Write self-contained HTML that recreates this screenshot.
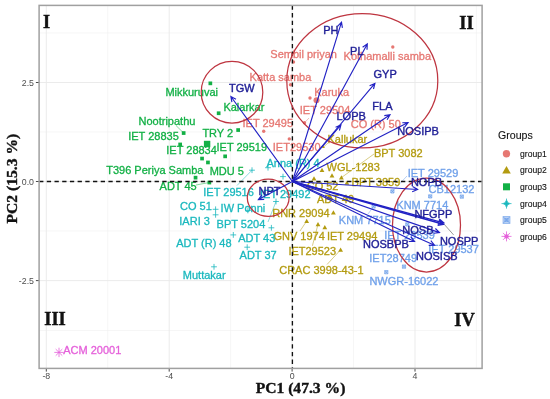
<!DOCTYPE html>
<html><head><meta charset="utf-8"><title>PCA biplot</title>
<style>html,body{margin:0;padding:0;background:#fff}body{width:550px;height:399px;overflow:hidden}</style></head>
<body>
<svg width="550" height="399" viewBox="0 0 550 399" style="display:block">
<rect width="550" height="399" fill="#fff"/>
<line x1="107.7" y1="5.4" x2="107.7" y2="368.4" stroke="#f0f0f0" stroke-width="0.6"/>
<line x1="230.6" y1="5.4" x2="230.6" y2="368.4" stroke="#f0f0f0" stroke-width="0.6"/>
<line x1="353.5" y1="5.4" x2="353.5" y2="368.4" stroke="#f0f0f0" stroke-width="0.6"/>
<line x1="476.4" y1="5.4" x2="476.4" y2="368.4" stroke="#f0f0f0" stroke-width="0.6"/>
<line x1="39.1" y1="33" x2="482.1" y2="33" stroke="#f0f0f0" stroke-width="0.6"/>
<line x1="39.1" y1="132" x2="482.1" y2="132" stroke="#f0f0f0" stroke-width="0.6"/>
<line x1="39.1" y1="231" x2="482.1" y2="231" stroke="#f0f0f0" stroke-width="0.6"/>
<line x1="39.1" y1="330.5" x2="482.1" y2="330.5" stroke="#f0f0f0" stroke-width="0.6"/>
<line x1="46.3" y1="5.4" x2="46.3" y2="368.4" stroke="#e9e9e9" stroke-width="0.9"/>
<line x1="169.2" y1="5.4" x2="169.2" y2="368.4" stroke="#e9e9e9" stroke-width="0.9"/>
<line x1="292.1" y1="5.4" x2="292.1" y2="368.4" stroke="#e9e9e9" stroke-width="0.9"/>
<line x1="415.0" y1="5.4" x2="415.0" y2="368.4" stroke="#e9e9e9" stroke-width="0.9"/>
<line x1="39.1" y1="82.5" x2="482.1" y2="82.5" stroke="#e9e9e9" stroke-width="0.9"/>
<line x1="39.1" y1="181.5" x2="482.1" y2="181.5" stroke="#e9e9e9" stroke-width="0.9"/>
<line x1="39.1" y1="280.6" x2="482.1" y2="280.6" stroke="#e9e9e9" stroke-width="0.9"/>
<g font-family="'Liberation Sans', Arial, sans-serif">
<circle cx="293.5" cy="62" r="1.7" fill="#E67873"/>
<circle cx="290.5" cy="84.7" r="1.7" fill="#E67873"/>
<circle cx="310" cy="98" r="1.7" fill="#E67873"/>
<circle cx="392.8" cy="47" r="1.7" fill="#E67873"/>
<circle cx="263.7" cy="131.3" r="1.7" fill="#E67873"/>
<circle cx="289.3" cy="138.9" r="1.7" fill="#E67873"/>
<circle cx="304.5" cy="122.8" r="1.7" fill="#E67873"/>
<circle cx="316.5" cy="100.2" r="3.0" fill="#E67873"/>
<line x1="304.5" y1="122.8" x2="309" y2="118" stroke="#E67873" stroke-width="0.5"/>
<path d="M323.4 145.4 L324.9 148.1 L321.9 148.1Z" fill="#B39B10"/>
<path d="M322.0 167.7 L324.4 171.9 L319.6 171.9Z" fill="#B39B10"/>
<path d="M332.0 173.3 L334.4 177.5 L329.6 177.5Z" fill="#B39B10"/>
<path d="M314.0 176.3 L316.4 180.5 L311.6 180.5Z" fill="#B39B10"/>
<path d="M341.4 175.3 L343.8 179.5 L339.0 179.5Z" fill="#B39B10"/>
<path d="M346.9 180.6 L349.3 184.8 L344.5 184.8Z" fill="#B39B10"/>
<path d="M346.9 197.1 L349.3 201.3 L344.5 201.3Z" fill="#B39B10"/>
<path d="M333.4 210.3 L335.8 214.5 L331.0 214.5Z" fill="#B39B10"/>
<path d="M306.7 218.7 L309.1 222.9 L304.3 222.9Z" fill="#B39B10"/>
<path d="M318.0 222.0 L320.4 226.2 L315.6 226.2Z" fill="#B39B10"/>
<path d="M324.8 225.0 L327.2 229.2 L322.4 229.2Z" fill="#B39B10"/>
<path d="M340.6 247.5 L343.0 251.7 L338.2 251.7Z" fill="#B39B10"/>
<path d="M329.6 193.2 L333.3 199.7 L325.9 199.7Z" fill="#B39B10"/>
<line x1="374" y1="154" x2="341.4" y2="177.6" stroke="#B39B10" stroke-width="0.5"/>
<line x1="306.7" y1="221" x2="300" y2="231" stroke="#B39B10" stroke-width="0.5"/>
<line x1="318" y1="224.3" x2="312.4" y2="245.8" stroke="#B39B10" stroke-width="0.5"/>
<line x1="340.6" y1="249.8" x2="327" y2="264.5" stroke="#B39B10" stroke-width="0.5"/>
<line x1="323.5" y1="147" x2="328" y2="143" stroke="#B39B10" stroke-width="0.5"/>
<rect x="208.5" y="81.5" width="3.7" height="3.7" fill="#12B045"/>
<rect x="216.8" y="111.4" width="3.7" height="3.7" fill="#12B045"/>
<rect x="181.8" y="131.2" width="3.7" height="3.7" fill="#12B045"/>
<rect x="178.3" y="142.6" width="3.7" height="3.7" fill="#12B045"/>
<rect x="200.2" y="156.7" width="3.7" height="3.7" fill="#12B045"/>
<rect x="206.1" y="160.6" width="3.7" height="3.7" fill="#12B045"/>
<rect x="223.3" y="154.5" width="3.7" height="3.7" fill="#12B045"/>
<rect x="236.3" y="128.2" width="3.7" height="3.7" fill="#12B045"/>
<rect x="193.7" y="175.8" width="3.7" height="3.7" fill="#12B045"/>
<rect x="207.5" y="180.7" width="3.7" height="3.7" fill="#12B045"/>
<rect x="203.9" y="140.8" width="6.4" height="6.4" fill="#12B045"/>
<line x1="183.7" y1="133.1" x2="176" y2="125.5" stroke="#12B045" stroke-width="0.5"/>
<line x1="209.3" y1="182.5" x2="196" y2="185" stroke="#12B045" stroke-width="0.5"/>
<path d="M249.1 170.2H254.9M252.0 167.3V173.1" stroke="#1AB8BE" stroke-width="0.8" fill="none"/>
<path d="M265.1 167.7H270.9M268.0 164.8V170.6" stroke="#1AB8BE" stroke-width="0.8" fill="none"/>
<path d="M280.1 176.6H285.9M283.0 173.7V179.5" stroke="#1AB8BE" stroke-width="0.8" fill="none"/>
<path d="M273.1 201.5H278.9M276.0 198.6V204.4" stroke="#1AB8BE" stroke-width="0.8" fill="none"/>
<path d="M212.7 209.3H218.5M215.6 206.4V212.2" stroke="#1AB8BE" stroke-width="0.8" fill="none"/>
<path d="M212.7 214.8H218.5M215.6 211.9V217.7" stroke="#1AB8BE" stroke-width="0.8" fill="none"/>
<path d="M245.0 210.4H250.8M247.9 207.5V213.3" stroke="#1AB8BE" stroke-width="0.8" fill="none"/>
<path d="M268.5 227.8H274.3M271.4 224.9V230.7" stroke="#1AB8BE" stroke-width="0.8" fill="none"/>
<path d="M230.4 234.9H236.2M233.3 232.0V237.8" stroke="#1AB8BE" stroke-width="0.8" fill="none"/>
<path d="M244.3 247.2H250.1M247.2 244.3V250.1" stroke="#1AB8BE" stroke-width="0.8" fill="none"/>
<path d="M211.1 266.8H216.9M214.0 263.9V269.7" stroke="#1AB8BE" stroke-width="0.8" fill="none"/>
<line x1="252" y1="170.2" x2="237" y2="185.5" stroke="#1AB8BE" stroke-width="0.5"/>
<line x1="276" y1="201.5" x2="268" y2="222" stroke="#1AB8BE" stroke-width="0.5"/>
<path d="M384.7 270.6h3.2v3.2h-3.2zM384.7 270.6l3.2 3.2M387.9 270.6l-3.2 3.2" stroke="#6FA0EA" stroke-width="0.7" fill="#6FA0EA" fill-opacity="0.35"/>
<path d="M402.4 265.0h3.2v3.2h-3.2zM402.4 265.0l3.2 3.2M405.6 265.0l-3.2 3.2" stroke="#6FA0EA" stroke-width="0.7" fill="#6FA0EA" fill-opacity="0.35"/>
<path d="M428.6 194.8h3.2v3.2h-3.2zM428.6 194.8l3.2 3.2M431.8 194.8l-3.2 3.2" stroke="#6FA0EA" stroke-width="0.7" fill="#6FA0EA" fill-opacity="0.35"/>
<path d="M460.2 195.0h3.2v3.2h-3.2zM460.2 195.0l3.2 3.2M463.4 195.0l-3.2 3.2" stroke="#6FA0EA" stroke-width="0.7" fill="#6FA0EA" fill-opacity="0.35"/>
<path d="M390.8 189.8h3.2v3.2h-3.2zM390.8 189.8l3.2 3.2M394.0 189.8l-3.2 3.2" stroke="#6FA0EA" stroke-width="0.7" fill="#6FA0EA" fill-opacity="0.35"/>
<path d="M372.0 204.9h3.2v3.2h-3.2zM372.0 204.9l3.2 3.2M375.2 204.9l-3.2 3.2" stroke="#6FA0EA" stroke-width="0.7" fill="#6FA0EA" fill-opacity="0.35"/>
<path d="M405.7 222.8h3.2v3.2h-3.2zM405.7 222.8l3.2 3.2M408.9 222.8l-3.2 3.2" stroke="#6FA0EA" stroke-width="0.7" fill="#6FA0EA" fill-opacity="0.35"/>
<line x1="392.4" y1="191.4" x2="407" y2="176" stroke="#6FA0EA" stroke-width="0.5"/>
<line x1="373.6" y1="206.5" x2="368" y2="214" stroke="#6FA0EA" stroke-width="0.5"/>
<path d="M54.3 352.4H63.7M59.0 347.7V357.1M55.7 349.1L62.3 355.7M62.3 349.1L55.7 355.7" stroke="#E560DA" stroke-width="0.8" fill="none"/>
<text x="270.3" y="57.5" fill="#E67873" stroke="#E67873" stroke-width="0.3" font-size="11.0" text-anchor="start">Sembil priyan</text>
<text x="343.6" y="60.2" fill="#E67873" stroke="#E67873" stroke-width="0.3" font-size="11.0" text-anchor="start">Kothamalli samba</text>
<text x="249.6" y="81.3" fill="#E67873" stroke="#E67873" stroke-width="0.3" font-size="11.0" text-anchor="start">Katta samba</text>
<text x="314.2" y="95.7" fill="#E67873" stroke="#E67873" stroke-width="0.3" font-size="11.0" text-anchor="start">Karuka</text>
<text x="299.8" y="113.5" fill="#E67873" stroke="#E67873" stroke-width="0.3" font-size="11.0" text-anchor="start">IET 29504</text>
<text x="242.5" y="126.9" fill="#E67873" stroke="#E67873" stroke-width="0.3" font-size="11.0" text-anchor="start">IET 29495</text>
<text x="350.7" y="128.4" fill="#E67873" stroke="#E67873" stroke-width="0.3" font-size="11.0" text-anchor="start">CO (R) 50</text>
<text x="272.8" y="151.1" fill="#E67873" stroke="#E67873" stroke-width="0.3" font-size="11.0" text-anchor="start">IET29530</text>
<text x="327.5" y="143.4" fill="#B39B10" stroke="#B39B10" stroke-width="0.3" font-size="11.0" text-anchor="start">Kallukar</text>
<text x="373.9" y="156.7" fill="#B39B10" stroke="#B39B10" stroke-width="0.3" font-size="11.0" text-anchor="start">BPT 3082</text>
<text x="326.6" y="171.2" fill="#B39B10" stroke="#B39B10" stroke-width="0.3" font-size="11.0" text-anchor="start">WGL-1283</text>
<text x="351.6" y="185.7" fill="#B39B10" stroke="#B39B10" stroke-width="0.3" font-size="11.0" text-anchor="start">BPT 3859</text>
<text x="306.7" y="189.7" fill="#B39B10" stroke="#B39B10" stroke-width="0.3" font-size="11.0" text-anchor="start">CO 52</text>
<text x="317.0" y="202.7" fill="#B39B10" stroke="#B39B10" stroke-width="0.3" font-size="11.0" text-anchor="start">ADT 49</text>
<text x="272.2" y="216.7" fill="#B39B10" stroke="#B39B10" stroke-width="0.3" font-size="11.0" text-anchor="start">RNR 29094</text>
<text x="273.4" y="240.3" fill="#B39B10" stroke="#B39B10" stroke-width="0.3" font-size="11.0" text-anchor="start">GNV 1974</text>
<text x="326.9" y="239.7" fill="#B39B10" stroke="#B39B10" stroke-width="0.3" font-size="11.0" text-anchor="start">IET 29494</text>
<text x="288.4" y="254.8" fill="#B39B10" stroke="#B39B10" stroke-width="0.3" font-size="11.0" text-anchor="start">IET29523</text>
<text x="279.2" y="274.2" fill="#B39B10" stroke="#B39B10" stroke-width="0.3" font-size="11.0" text-anchor="start">CRAC 3998-43-1</text>
<text x="165.4" y="95.7" fill="#12B045" stroke="#12B045" stroke-width="0.3" font-size="11.0" text-anchor="start">Mikkuruvai</text>
<text x="223.4" y="111.3" fill="#12B045" stroke="#12B045" stroke-width="0.3" font-size="11.0" text-anchor="start">Kalarkar</text>
<text x="138.5" y="124.9" fill="#12B045" stroke="#12B045" stroke-width="0.3" font-size="11.0" text-anchor="start">Nootripathu</text>
<text x="128.2" y="139.5" fill="#12B045" stroke="#12B045" stroke-width="0.3" font-size="11.0" text-anchor="start">IET 28835</text>
<text x="202.4" y="136.8" fill="#12B045" stroke="#12B045" stroke-width="0.3" font-size="11.0" text-anchor="start">TRY 2</text>
<text x="166.3" y="153.7" fill="#12B045" stroke="#12B045" stroke-width="0.3" font-size="11.0" text-anchor="start">IET 28834</text>
<text x="216.5" y="151.1" fill="#12B045" stroke="#12B045" stroke-width="0.3" font-size="11.0" text-anchor="start">IET 29519</text>
<text x="106.2" y="173.5" fill="#12B045" stroke="#12B045" stroke-width="0.3" font-size="11.0" text-anchor="start">T396 Periya Samba</text>
<text x="209.7" y="174.7" fill="#12B045" stroke="#12B045" stroke-width="0.3" font-size="11.0" text-anchor="start">MDU 5</text>
<text x="159.6" y="189.7" fill="#12B045" stroke="#12B045" stroke-width="0.3" font-size="11.0" text-anchor="start">ADT 45</text>
<text x="266.5" y="167.1" fill="#1AB8BE" stroke="#1AB8BE" stroke-width="0.3" font-size="11.0" text-anchor="start">Anna (R) 4</text>
<text x="203.3" y="195.8" fill="#1AB8BE" stroke="#1AB8BE" stroke-width="0.3" font-size="11.0" text-anchor="start">IET 29516</text>
<text x="260.0" y="197.7" fill="#1AB8BE" stroke="#1AB8BE" stroke-width="0.3" font-size="11.0" text-anchor="start">IET 29492</text>
<text x="180.0" y="210.4" fill="#1AB8BE" stroke="#1AB8BE" stroke-width="0.3" font-size="11.0" text-anchor="start">CO 51</text>
<text x="220.6" y="211.8" fill="#1AB8BE" stroke="#1AB8BE" stroke-width="0.3" font-size="11.0" text-anchor="start">IW Ponni</text>
<text x="179.3" y="225.0" fill="#1AB8BE" stroke="#1AB8BE" stroke-width="0.3" font-size="11.0" text-anchor="start">IARI 3</text>
<text x="216.6" y="227.8" fill="#1AB8BE" stroke="#1AB8BE" stroke-width="0.3" font-size="11.0" text-anchor="start">BPT 5204</text>
<text x="176.2" y="247.1" fill="#1AB8BE" stroke="#1AB8BE" stroke-width="0.3" font-size="11.0" text-anchor="start">ADT (R) 48</text>
<text x="238.2" y="242.1" fill="#1AB8BE" stroke="#1AB8BE" stroke-width="0.3" font-size="11.0" text-anchor="start">ADT 43</text>
<text x="239.6" y="258.7" fill="#1AB8BE" stroke="#1AB8BE" stroke-width="0.3" font-size="11.0" text-anchor="start">ADT 37</text>
<text x="182.8" y="279.1" fill="#1AB8BE" stroke="#1AB8BE" stroke-width="0.3" font-size="11.0" text-anchor="start">Muttakar</text>
<text x="407.7" y="176.5" fill="#6FA0EA" stroke="#6FA0EA" stroke-width="0.3" font-size="11.0" text-anchor="start">IET 29529</text>
<text x="428.5" y="192.5" fill="#6FA0EA" stroke="#6FA0EA" stroke-width="0.3" font-size="11.0" text-anchor="start">CB12132</text>
<text x="396.3" y="209.3" fill="#6FA0EA" stroke="#6FA0EA" stroke-width="0.3" font-size="11.0" text-anchor="start">KNM 7714</text>
<text x="338.8" y="224.1" fill="#6FA0EA" stroke="#6FA0EA" stroke-width="0.3" font-size="11.0" text-anchor="start">KNM 7715</text>
<text x="384.2" y="239.4" fill="#6FA0EA" stroke="#6FA0EA" stroke-width="0.3" font-size="11.0" text-anchor="start">IET 28539</text>
<text x="428.3" y="253.3" fill="#6FA0EA" stroke="#6FA0EA" stroke-width="0.3" font-size="11.0" text-anchor="start">IET 29537</text>
<text x="369.3" y="262.3" fill="#6FA0EA" stroke="#6FA0EA" stroke-width="0.3" font-size="11.0" text-anchor="start">IET28749</text>
<text x="369.4" y="284.7" fill="#6FA0EA" stroke="#6FA0EA" stroke-width="0.3" font-size="11.0" text-anchor="start">NWGR-16022</text>
<text x="63.2" y="354.1" fill="#E560DA" stroke="#E560DA" stroke-width="0.3" font-size="11.0" text-anchor="start">ACM 20001</text>
<line x1="39.1" y1="181.5" x2="482.1" y2="181.5" stroke="#111" stroke-width="1.35" stroke-dasharray="4.3 3.4"/>
<line x1="292.4" y1="5.4" x2="292.4" y2="368.4" stroke="#111" stroke-width="1.35" stroke-dasharray="4.3 3.4"/>
<ellipse cx="232" cy="92.2" rx="30.8" ry="30.8" fill="none" stroke="#BE3540" stroke-width="1.25" transform="rotate(0 232 92.2)"/>
<ellipse cx="362.3" cy="80.7" rx="75.5" ry="67.2" fill="none" stroke="#BE3540" stroke-width="1.25" transform="rotate(0 362.3 80.7)"/>
<ellipse cx="426.5" cy="225" rx="34" ry="47" fill="none" stroke="#BE3540" stroke-width="1.25" transform="rotate(0 426.5 225)"/>
<ellipse cx="268.2" cy="197.7" rx="20.9" ry="18.7" fill="none" stroke="#BE3540" stroke-width="1.25" transform="rotate(0 268.2 197.7)"/>
<path d="M292.4 181.5L230.9 96.5M231.9 102.2L230.9 96.5L236.0 99.2" stroke="#2222C4" stroke-width="1.15" fill="none" stroke-linejoin="miter"/>
<path d="M292.4 181.5L341.5 22.2M337.5 26.4L341.5 22.2L342.4 27.9" stroke="#2222C4" stroke-width="1.15" fill="none" stroke-linejoin="miter"/>
<path d="M292.4 181.5L367.3 43.9M362.6 47.3L367.3 43.9L367.0 49.7" stroke="#2222C4" stroke-width="1.15" fill="none" stroke-linejoin="miter"/>
<path d="M292.4 181.5L374.9 83.4M369.6 85.8L374.9 83.4L373.5 89.0" stroke="#2222C4" stroke-width="1.15" fill="none" stroke-linejoin="miter"/>
<path d="M292.4 181.5L390 114.8M384.3 115.6L390 114.8L387.1 119.8" stroke="#2222C4" stroke-width="1.15" fill="none" stroke-linejoin="miter"/>
<path d="M292.4 181.5L340.9 124.9M335.6 127.2L340.9 124.9L339.4 130.5" stroke="#2222C4" stroke-width="1.15" fill="none" stroke-linejoin="miter"/>
<path d="M292.4 181.5L408.1 122.6M402.3 122.7L408.1 122.6L404.6 127.2" stroke="#2222C4" stroke-width="1.15" fill="none" stroke-linejoin="miter"/>
<path d="M292.4 181.5L417.6 189.5M412.6 186.6L417.6 189.5L412.2 191.7" stroke="#2222C4" stroke-width="1.15" fill="none" stroke-linejoin="miter"/>
<path d="M292.4 181.5L443.6 222.9M439.2 219.1L443.6 222.9L437.9 224.0" stroke="#2222C4" stroke-width="1.5" fill="none" stroke-linejoin="miter"/>
<path d="M292.4 181.5L443.3 224.2M439.0 220.3L443.3 224.2L437.6 225.2" stroke="#2222C4" stroke-width="1.5" fill="none" stroke-linejoin="miter"/>
<path d="M292.4 181.5L439.5 232.6M435.4 228.5L439.5 232.6L433.7 233.3" stroke="#2222C4" stroke-width="1.15" fill="none" stroke-linejoin="miter"/>
<path d="M292.4 181.5L414.5 241.5M410.9 236.9L414.5 241.5L408.7 241.5" stroke="#2222C4" stroke-width="1.15" fill="none" stroke-linejoin="miter"/>
<path d="M292.4 181.5L434.5 245.2M430.8 240.7L434.5 245.2L428.7 245.4" stroke="#2222C4" stroke-width="1.15" fill="none" stroke-linejoin="miter"/>
<path d="M292.4 181.5L258.4 199.6M264.2 199.4L258.4 199.6L261.8 194.9" stroke="#2222C4" stroke-width="1.15" fill="none" stroke-linejoin="miter"/>
<line x1="444.4" y1="224.5" x2="453.6" y2="234.9" stroke="#333" stroke-width="0.5"/>
<text x="229.0" y="91.7" fill="#1E1E96" stroke="#1E1E96" stroke-width="0.4" font-size="11.0" text-anchor="start">TGW</text>
<text x="323.2" y="34.1" fill="#1E1E96" stroke="#1E1E96" stroke-width="0.4" font-size="11.0" text-anchor="start">PH</text>
<text x="350.1" y="54.9" fill="#1E1E96" stroke="#1E1E96" stroke-width="0.4" font-size="11.0" text-anchor="start">PL</text>
<text x="373.5" y="78.1" fill="#1E1E96" stroke="#1E1E96" stroke-width="0.4" font-size="11.0" text-anchor="start">GYP</text>
<text x="372.3" y="110.0" fill="#1E1E96" stroke="#1E1E96" stroke-width="0.4" font-size="11.0" text-anchor="start">FLA</text>
<text x="336.5" y="120.1" fill="#1E1E96" stroke="#1E1E96" stroke-width="0.4" font-size="11.0" text-anchor="start">LOPB</text>
<text x="397.3" y="135.3" fill="#1E1E96" stroke="#1E1E96" stroke-width="0.4" font-size="11.0" text-anchor="start">NOSIPB</text>
<text x="410.9" y="185.8" fill="#1E1E96" stroke="#1E1E96" stroke-width="0.4" font-size="11.0" text-anchor="start">NOPB</text>
<text x="414.4" y="217.9" fill="#1E1E96" stroke="#1E1E96" stroke-width="0.4" font-size="11.0" text-anchor="start">NFGPP</text>
<text x="402.3" y="233.7" fill="#1E1E96" stroke="#1E1E96" stroke-width="0.4" font-size="11.0" text-anchor="start">NOSB</text>
<text x="439.9" y="245.3" fill="#1E1E96" stroke="#1E1E96" stroke-width="0.4" font-size="11.0" text-anchor="start">NOSPP</text>
<text x="363.0" y="247.9" fill="#1E1E96" stroke="#1E1E96" stroke-width="0.4" font-size="11.0" text-anchor="start">NOSBPB</text>
<text x="416.0" y="260.1" fill="#1E1E96" stroke="#1E1E96" stroke-width="0.4" font-size="11.0" text-anchor="start">NOSISB</text>
<text x="258.5" y="195.3" fill="#1E1E96" stroke="#1E1E96" stroke-width="0.4" font-size="11.0" text-anchor="start">NPT</text>
<text x="498.0" y="139.0" fill="#111" stroke="#111" stroke-width="0.1" font-size="10.6" text-anchor="start">Groups</text>
<text x="520.0" y="156.9" fill="#111" stroke="#111" stroke-width="0.1" font-size="8.6" text-anchor="start">group1</text>
<text x="520.0" y="173.3" fill="#111" stroke="#111" stroke-width="0.1" font-size="8.6" text-anchor="start">group2</text>
<text x="520.0" y="189.9" fill="#111" stroke="#111" stroke-width="0.1" font-size="8.6" text-anchor="start">group3</text>
<text x="520.0" y="206.7" fill="#111" stroke="#111" stroke-width="0.1" font-size="8.6" text-anchor="start">group4</text>
<text x="520.0" y="223.1" fill="#111" stroke="#111" stroke-width="0.1" font-size="8.6" text-anchor="start">group5</text>
<text x="520.0" y="239.5" fill="#111" stroke="#111" stroke-width="0.1" font-size="8.6" text-anchor="start">group6</text>
<circle cx="506.5" cy="153.8" r="3.7" fill="#E67873"/>
<path d="M506.5 166.1 L510.8 173.6 L502.2 173.6Z" fill="#B39B10"/>
<rect x="503.0" y="183.3" width="7.0" height="7.0" fill="#12B045"/>
<path d="M501.5 203.6H511.5M506.5 198.6V208.6" stroke="#1AB8BE" stroke-width="0.8" fill="none"/>
<path d="M503.7 203.6H509.3M506.5 200.79999999999998V206.4" stroke="#1AB8BE" stroke-width="2.4"/>
<path d="M503.1 216.6h6.8v6.8h-6.8zM503.1 216.6l6.8 6.8M509.9 216.6l-6.8 6.8" stroke="#6FA0EA" stroke-width="0.7" fill="#6FA0EA" fill-opacity="0.35"/>
<path d="M504.8 218.3h3.4v3.4h-3.4zM504.8 218.3l3.4 3.4M508.2 218.3l-3.4 3.4" stroke="#6FA0EA" stroke-width="0.7" fill="#6FA0EA" fill-opacity="0.35"/>
<path d="M501.5 236.4H511.5M506.5 231.4V241.4M503.0 232.9L510.0 239.9M510.0 232.9L503.0 239.9" stroke="#E560DA" stroke-width="0.8" fill="none"/>
<circle cx="506.5" cy="236.4" r="2.2" fill="#E560DA"/>
<line x1="35.9" y1="82.5" x2="39.1" y2="82.5" stroke="#333" stroke-width="0.9"/>
<text x="34" y="85.9" fill="#4d4d4d" stroke="#4d4d4d" stroke-width="0" font-size="8.8" text-anchor="end">2.5</text>
<line x1="35.9" y1="181.5" x2="39.1" y2="181.5" stroke="#333" stroke-width="0.9"/>
<text x="34" y="184.9" fill="#4d4d4d" stroke="#4d4d4d" stroke-width="0" font-size="8.8" text-anchor="end">0.0</text>
<line x1="35.9" y1="280.6" x2="39.1" y2="280.6" stroke="#333" stroke-width="0.9"/>
<text x="34" y="284.0" fill="#4d4d4d" stroke="#4d4d4d" stroke-width="0" font-size="8.8" text-anchor="end">-2.5</text>
<line x1="46.3" y1="368.4" x2="46.3" y2="371.59999999999997" stroke="#333" stroke-width="0.9"/>
<text x="46.3" y="379.4" fill="#4d4d4d" stroke="#4d4d4d" stroke-width="0" font-size="8.8" text-anchor="middle">-8</text>
<line x1="169.2" y1="368.4" x2="169.2" y2="371.59999999999997" stroke="#333" stroke-width="0.9"/>
<text x="169.2" y="379.4" fill="#4d4d4d" stroke="#4d4d4d" stroke-width="0" font-size="8.8" text-anchor="middle">-4</text>
<line x1="292.1" y1="368.4" x2="292.1" y2="371.59999999999997" stroke="#333" stroke-width="0.9"/>
<text x="292.1" y="379.4" fill="#4d4d4d" stroke="#4d4d4d" stroke-width="0" font-size="8.8" text-anchor="middle">0</text>
<line x1="415.0" y1="368.4" x2="415.0" y2="371.59999999999997" stroke="#333" stroke-width="0.9"/>
<text x="415.0" y="379.4" fill="#4d4d4d" stroke="#4d4d4d" stroke-width="0" font-size="8.8" text-anchor="middle">4</text>
</g>
<rect x="39.1" y="5.4" width="443.0" height="363.0" fill="none" stroke="#a0a0a0" stroke-width="1.5"/>
<g font-family="'Liberation Serif', 'Times New Roman', serif" font-weight="bold" fill="#111" stroke="#111" stroke-width="0.4">
<text x="43" y="28" font-size="18.2">I</text>
<text x="459.2" y="28.8" font-size="18.5">II</text>
<text x="44.2" y="325" font-size="18.5">III</text>
<text x="454.2" y="325.6" font-size="18.5">IV</text>
<text x="300.5" y="392.6" font-size="15.6" text-anchor="middle">PC1 (47.3 %)</text>
<text transform="translate(16.8 178.6) rotate(-90)" font-size="15.6" text-anchor="middle">PC2 (15.3 %)</text>
</g>
</svg>
</body></html>
